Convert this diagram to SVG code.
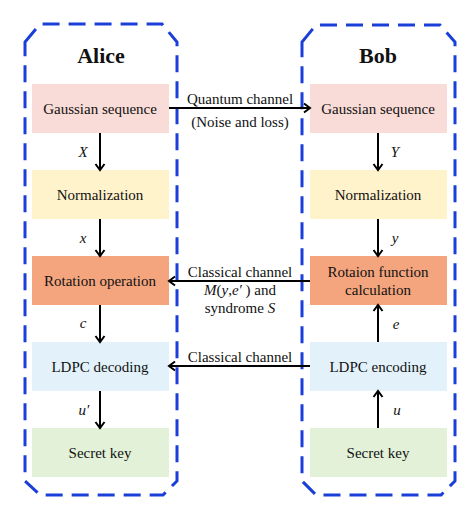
<svg xmlns="http://www.w3.org/2000/svg" width="474" height="519" viewBox="0 0 474 519" font-family="'Liberation Serif', 'Times New Roman', serif">
<defs>
<marker id="ah" markerUnits="userSpaceOnUse" markerWidth="12" markerHeight="12" viewBox="0 0 12 12" refX="9" refY="6" orient="auto">
<path d="M3,1.5 L9,6 L3,10.5" fill="none" stroke="#000" stroke-width="2"/>
</marker>
</defs>
<style>
text{font-family:"Liberation Serif","Times New Roman",serif;fill:#111;}
.t{font-size:15px;text-anchor:middle;}
.h{font-size:22px;font-weight:bold;text-anchor:middle;}
.lb{font-size:15px;font-style:italic;text-anchor:middle;}
.i{font-style:italic;}
.box{fill:none;stroke:#1a3fd9;stroke-width:3;stroke-dasharray:17 9;}
.ln{stroke:#000;stroke-width:2;fill:none;marker-end:url(#ah);}
.pink{fill:#f9dcd7;}
.yel{fill:#fff3cc;}
.ora{fill:#f4a57e;}
.blu{fill:#e3f1fa;}
.grn{fill:#e3f1d8;}
</style>
<rect width="474" height="519" fill="#fff"/>
<g id="alice">
<path class="box" d="M25,42 L40,24 L162,24 L177,42 L177,481 L163,495 L40,495 L25,481 Z"/>
<text class="h" x="101" y="63">Alice</text>
</g>
<g id="bob">
<path class="box" d="M302,42 L316,25 L440,25 L455,42 L455,481 L441,495 L316,495 L302,481 Z"/>
<text class="h" x="378" y="63">Bob</text>
</g>
<g id="a-gauss"><rect class="pink" x="32" y="84" width="137" height="49"/><text class="t" x="100" y="113.5">Gaussian sequence</text></g>
<g id="a-norm"><rect class="yel" x="32" y="170" width="137" height="49"/><text class="t" x="100" y="199.5">Normalization</text></g>
<g id="a-rot"><rect class="ora" x="32" y="256" width="137" height="49"/><text class="t" x="100" y="285.5">Rotation operation</text></g>
<g id="a-ldpc"><rect class="blu" x="32" y="342" width="137" height="49"/><text class="t" x="100" y="371.5">LDPC decoding</text></g>
<g id="a-key"><rect class="grn" x="32" y="428" width="137" height="49"/><text class="t" x="100" y="457.5">Secret key</text></g>
<g id="b-gauss"><rect class="pink" x="310" y="84" width="137" height="49"/><text class="t" x="378" y="113.5">Gaussian sequence</text></g>
<g id="b-norm"><rect class="yel" x="310" y="170" width="137" height="49"/><text class="t" x="378" y="199.5">Normalization</text></g>
<g id="b-rot"><rect class="ora" x="310" y="256" width="137" height="49"/><text class="t" x="378" y="277">Rotaion function</text><text class="t" x="378" y="295">calculation</text></g>
<g id="b-ldpc"><rect class="blu" x="310" y="342" width="137" height="49"/><text class="t" x="378" y="371.5">LDPC encoding</text></g>
<g id="b-key"><rect class="grn" x="310" y="428" width="137" height="49"/><text class="t" x="378" y="457.5">Secret key</text></g>
<g id="connectors">
<line class="ln" x1="100" y1="133" x2="100" y2="170"/>
<line class="ln" x1="100" y1="219" x2="100" y2="256"/>
<line class="ln" x1="100" y1="305" x2="100" y2="342"/>
<line class="ln" x1="100" y1="391" x2="100" y2="428"/>
<line class="ln" x1="378" y1="133" x2="378" y2="170"/>
<line class="ln" x1="378" y1="219" x2="378" y2="256"/>
<line class="ln" x1="378" y1="342" x2="378" y2="305"/>
<line class="ln" x1="378" y1="428" x2="378" y2="391"/>
<line class="ln" x1="169" y1="108" x2="310" y2="108"/>
<line class="ln" x1="310" y1="281" x2="169" y2="281"/>
<line class="ln" x1="310" y1="366" x2="169" y2="366"/>
<text class="lb" x="83" y="157">X</text>
<text class="lb" x="83" y="243">x</text>
<text class="lb" x="83" y="328">c</text>
<text class="lb" x="84" y="415">u′</text>
<text class="lb" x="395" y="157">Y</text>
<text class="lb" x="395" y="243">y</text>
<text class="lb" x="396" y="329">e</text>
<text class="lb" x="397" y="415">u</text>
<text class="t" x="240" y="104">Quantum channel</text>
<text class="t" x="240" y="127">(Noise and loss)</text>
<text class="t" x="240" y="277">Classical channel</text>
<text class="t" x="240" y="295"><tspan class="i">M</tspan>(<tspan class="i">y</tspan>,<tspan class="i">e′</tspan> ) and</text>
<text class="t" x="240" y="313">syndrome <tspan class="i">S</tspan></text>
<text class="t" x="240" y="362">Classical channel</text>
</g>
</svg>
